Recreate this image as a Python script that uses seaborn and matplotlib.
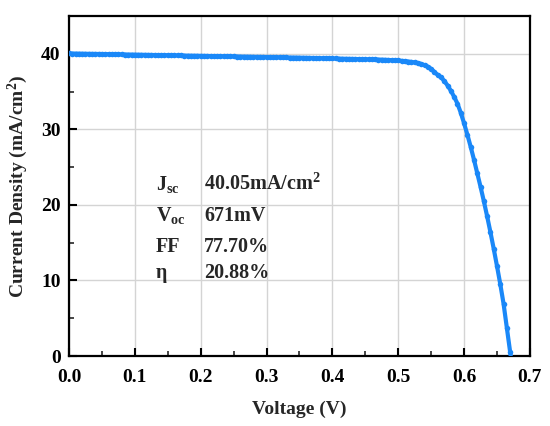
import numpy as np
import pandas as pd
import seaborn as sns
import matplotlib.pyplot as plt
from matplotlib.ticker import MultipleLocator

# J-V data (0.005 V steps)
voltage = np.round(np.arange(0, 136) * 0.005, 3)
current_density = [
    40.05, 40.04, 40.03, 40.03, 40.02, 40.01, 40.00, 39.99, 39.99, 39.98,
    39.97, 39.96, 39.95, 39.95, 39.94, 39.93, 39.92, 39.91, 39.91, 39.90,
    39.89, 39.88, 39.87, 39.87, 39.86, 39.85, 39.84, 39.83, 39.83, 39.82,
    39.81, 39.80, 39.79, 39.79, 39.78, 39.77, 39.76, 39.75, 39.75, 39.74,
    39.73, 39.72, 39.71, 39.71, 39.70, 39.69, 39.68, 39.67, 39.67, 39.66,
    39.65, 39.64, 39.63, 39.63, 39.62, 39.61, 39.60, 39.59, 39.59, 39.58,
    39.57, 39.56, 39.55, 39.55, 39.54, 39.53, 39.52, 39.51, 39.51, 39.50,
    39.49, 39.48, 39.47, 39.46, 39.46, 39.45, 39.44, 39.43, 39.42, 39.41,
    39.40, 39.39, 39.38, 39.37, 39.36, 39.35, 39.34, 39.33, 39.32, 39.31,
    39.30, 39.29, 39.27, 39.26, 39.24, 39.23, 39.21, 39.19, 39.17, 39.15,
    39.12, 39.08, 39.03, 38.98, 38.93, 38.86, 38.77, 38.65, 38.50, 38.30,
    38.00, 37.60, 37.20, 36.90, 36.40, 35.80, 35.10, 34.30, 33.40, 32.20,
    30.80, 29.30, 27.70, 26.00, 24.20, 22.40, 20.50, 18.50, 16.40, 14.20,
    11.90, 9.50, 6.90, 3.70, 0.50, -2.50,
]

stat_names = ["$J_{sc}$", "$V_{oc}$", "FF", "η"]
stat_values = ["40.05mA/cm$^2$", "671mV", "77.70%", "20.88%"]

df = pd.DataFrame({"V": voltage, "J": current_density})

sns.set_theme(style="whitegrid")
plt.rcParams["font.family"] = ["Liberation Serif", "DejaVu Serif"]
plt.rcParams["font.weight"] = "bold"
plt.rcParams["mathtext.fontset"] = "custom"
plt.rcParams["mathtext.rm"] = "Liberation Serif:bold"
plt.rcParams["mathtext.it"] = "Liberation Serif:bold"
plt.rcParams["mathtext.bf"] = "Liberation Serif:bold"

fig = plt.figure(figsize=(5.5, 4.26), dpi=100)
ax = fig.add_axes([0.1255, 0.1643, 0.838, 0.798])

blue = "#1a88f8"
sns.lineplot(data=df, x="V", y="J", ax=ax, color=blue, linewidth=3.0,
             marker="o", markersize=4.0, markeredgewidth=0, zorder=3)

ax.set_xlim(0, 0.7)
ax.set_ylim(0, 45)
ax.xaxis.set_major_locator(MultipleLocator(0.1))
ax.xaxis.set_minor_locator(MultipleLocator(0.05))
ax.yaxis.set_major_locator(MultipleLocator(10))
ax.yaxis.set_minor_locator(MultipleLocator(5))
ax.set_xticklabels([f"{t:.1f}" for t in ax.get_xticks()])

ax.grid(True, which="major", color="#d4d4d4", linewidth=1.0)
ax.grid(False, which="minor")
ax.set_facecolor("white")
for sp in ax.spines.values():
    sp.set_color("black")
    sp.set_linewidth(1.6)

ax.tick_params(axis="both", which="major", direction="in", length=6, width=1.5,
               labelsize=14, colors="black", bottom=True, left=True)
ax.tick_params(axis="x", which="major", pad=9)
ax.tick_params(axis="y", which="major", pad=6)
ax.tick_params(axis="both", which="minor", direction="in", length=3.5, width=1.2,
               bottom=True, left=True)
for lbl in ax.get_xticklabels() + ax.get_yticklabels():
    lbl.set_fontweight("bold")

ax.set_xlabel("Voltage (V)", fontsize=14, fontweight="bold", labelpad=11)
ax.set_ylabel("Current Density (mA/cm$^2$)", fontsize=14, fontweight="bold", labelpad=8)

# summary of cell parameters
y_rows = [190, 221, 252, 278]
for name, val, yp in zip(stat_names, stat_values, y_rows):
    fig.text(156 / 550, 1 - yp / 426, name, fontsize=14.5, fontweight="bold", va="baseline")
    fig.text(204 / 550, 1 - yp / 426, val, fontsize=14.5, fontweight="bold", va="baseline")

fig.savefig("out.png", dpi=100)
